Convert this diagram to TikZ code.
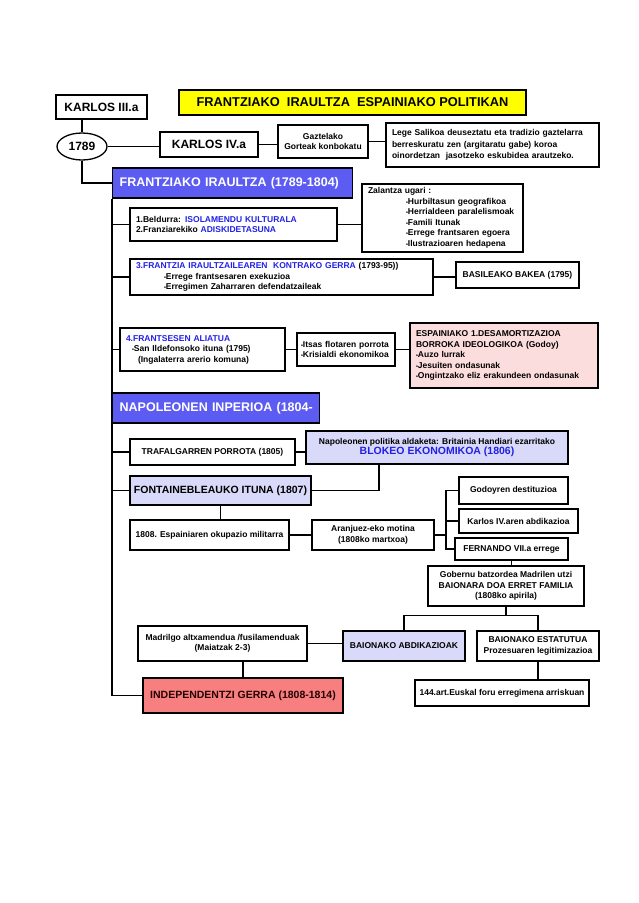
\documentclass[tikz,border=0pt]{standalone}
\usepackage{fontspec}
\setmainfont{Liberation Sans}
\usetikzlibrary{shapes.geometric,positioning}
\definecolor{titleYellow}{HTML}{FFFF00}
\definecolor{eraBlue}{HTML}{5C5CF2}
\definecolor{lavBox}{HTML}{D9D9FA}
\definecolor{pinkBox}{HTML}{FCDDDD}
\definecolor{warRed}{HTML}{F77F7F}
\definecolor{txtBlue}{HTML}{2020E6}
\newcommand{\bl}[1]{\textcolor{txtBlue}{#1}}
\newcommand{\pt}{{\fontsize{5.5}{5.5}\selectfont\textbullet}}

\begin{document}
\begin{tikzpicture}[x=1pt,y=-1pt,line width=1.3pt,
	box/.style={draw, rectangle, inner sep=2pt, font=\bfseries\fontsize{8.5}{10.5}\selectfont, align=center},
	lbox/.style={box, align=left, inner xsep=6pt, text width=#1-12pt},
	bigbox/.style={box, font=\bfseries\fontsize{12}{14}\selectfont},
	era/.style={box, fill=eraBlue, text=white, font=\bfseries\fontsize{12.5}{14}\selectfont, align=left, anchor=west, inner xsep=7pt, text width=#1-14pt},
	lav/.style={box, fill=lavBox}]
	\useasboundingbox (0,0) rectangle (638,903);
	% head
	\node[bigbox, fill=titleYellow, minimum width=347, minimum height=25, font=\bfseries\fontsize{12.8}{14}\selectfont] (title) at (352.5,102.5) {FRANTZIAKO\ \ IRAULTZA\ \ ESPAINIAKO POLITIKAN};
	\node[bigbox, minimum width=91, minimum height=24] (k3) at (101.5,107) {KARLOS III.a};
	\node[draw, ellipse, minimum width=50, minimum height=27, inner sep=0, font=\bfseries\fontsize{12}{13}\selectfont] (y1789) at (82,146.5) {1789};
	\node[bigbox, minimum width=98, minimum height=25] (k4) at (209,144.5) {KARLOS IV.a};
	\node[box, minimum width=90, minimum height=33] (gorte) at (323,141.5) {Gaztelako\\Gorteak konbokatu};
	\node[lbox=213pt, minimum height=44, font=\bfseries\fontsize{8.5}{11.5}\selectfont] (lege) at (492.5,145) {Lege Salikoa deuseztatu eta tradizio gaztelarra\\berreskuratu zen (argitaratu gabe) koroa\\oinordetzan\ \ jasotzeko eskubidea arautzeko.};
	% frantziako iraultza
	\node[era=240pt, minimum height=30] (fr) at (112,183) {FRANTZIAKO IRAULTZA (1789-1804)};
	\node[lbox=161pt, minimum height=68] (zal) at (442.5,218) {Zalantza ugari :\\
		\hspace*{38pt}\pt Hurbiltasun geografikoa\\
		\hspace*{38pt}\pt Herrialdeen paralelismoak\\
		\hspace*{38pt}\pt Famili Itunak\\
		\hspace*{38pt}\pt Errege frantsaren egoera\\
		\hspace*{38pt}\pt Ilustrazioaren hedapena};
	\node[lbox=207pt, minimum height=33] (beld) at (233.5,224.5) {1.Beldurra: \bl{ISOLAMENDU KULTURALA}\\2.Franziarekiko \bl{ADISKIDETASUNA}};
	\node[lbox=303pt, minimum height=36] (gerra) at (281.5,277) {\bl{3.FRANTZIA IRAULTZAILEAREN\ \ KONTRAKO GERRA} (1793-95))\\
		\hspace*{28pt}\pt Errege frantsesaren exekuzioa\\
		\hspace*{28pt}\pt Erregimen Zaharraren defendatzaileak};
	\node[box, minimum width=123, minimum height=26] (basil) at (517.5,275) {BASILEAKO BAKEA (1795)};
	\node[lbox=165pt, minimum height=43] (aliat) at (202.5,349.5) {\bl{4.FRANTSESEN ALIATUA}\\
		\hspace*{6pt}\pt San Ildefonsoko ituna (1795)\\
		\hspace*{12pt}(Ingalaterra arerio komuna)};
	\node[lbox=102pt, minimum height=33, inner xsep=4pt] (itsas) at (346,349.5) {\pt Itsas flotaren porrota\\\pt Krisialdi ekonomikoa};
	\node[lbox=188pt, fill=pinkBox, minimum height=65] (desam) at (504,355.5) {ESPAINIAKO 1.DESAMORTIZAZIOA\\BORROKA IDEOLOGIKOA (Godoy)\\\pt Auzo lurrak\\\pt Jesuiten ondasunak\\\pt Ongintzako eliz erakundeen ondasunak};
	% napoleonen inperioa
	\node[era=207pt, minimum height=30] (napo) at (112,408) {\makebox[193pt][l]{NAPOLEONEN INPERIOA (1804-}};
	\node[box, minimum width=165, minimum height=26] (trafa) at (212.5,452) {TRAFALGARREN PORROTA (1805)};
	\node[lav, minimum width=262, minimum height=33] (bloke) at (437,447.5) {Napoleonen politika aldaketa: Britainia Handiari ezarritako\\{\fontsize{10.5}{12}\selectfont\bl{BLOKEO EKONOMIKOA (1806)}}};
	\node[lav, minimum width=181, minimum height=29, inner sep=1pt, font=\bfseries\fontsize{10.5}{12}\selectfont] (fonta) at (220.5,490.5) {FONTAINEBLEAUKO ITUNA (1807)};
	\node[box, minimum width=159, minimum height=30] (okup) at (209.5,535) {1808. Espainiaren okupazio militarra};
	\node[box, minimum width=122, minimum height=30] (aranj) at (373,535) {Aranjuez-eko motina\\(1808ko martxoa)};
	\node[box, minimum width=109, minimum height=27] (godoy) at (513.5,490.5) {Godoyren destituzioa};
	\node[box, minimum width=119, minimum height=24] (kabd) at (518.5,521) {Karlos IV.aren abdikazioa};
	\node[box, minimum width=113, minimum height=22] (fern) at (511.5,549) {FERNANDO VII.a errege};
	\node[box, minimum width=156, minimum height=40] (gobern) at (506,586) {Gobernu batzordea Madrilen utzi\\BAIONARA DOA ERRET FAMILIA\\(1808ko apirila)};
	\node[box, minimum width=169, minimum height=35] (madril) at (222.5,643.5) {Madrilgo altxamendua /fusilamenduak\\(Maiatzak 2-3)};
	\node[lav, minimum width=122, minimum height=30] (abdik) at (404,646) {BAIONAKO ABDIKAZIOAK};
	\node[box, minimum width=122, minimum height=30] (estat) at (538,646) {BAIONAKO ESTATUTUA\\Prozesuaren legitimizazioa};
	\node[box, fill=warRed, text=black!85!red, minimum width=200, minimum height=35, font=\bfseries\fontsize{10.5}{12}\selectfont] (indep) at (243,695.5) {INDEPENDENTZI GERRA (1808-1814)};
	\node[box, minimum width=174, minimum height=26] (art) at (502,693) {144.art.Euskal foru erregimena arriskuan};
	% connectors
	\draw (k3.south -| y1789) -- (y1789.north);
	\draw (y1789.south) |- (fr.west);
	\draw (y1789.east) -- (y1789.east -| k4.west);
	\draw (k4.east) -- (k4.east -| gorte.west);
	\draw (gorte.east) -- (gorte.east -| lege.west);
	\draw (fr.south west) |- (indep.west);
	\draw (fr.south west |- beld.west) -- (beld.west);
	\draw (beld.east) -- (beld.east -| zal.west);
	\draw (fr.south west |- gerra.west) -- (gerra.west);
	\draw (gerra.east) -- (gerra.east -| basil.west);
	\draw (fr.south west |- aliat.west) -- (aliat.west);
	\draw (aliat.east) -- (itsas.west);
	\draw (itsas.east) -- (itsas.east -| desam.west);
	\draw (fr.south west |- trafa.west) -- (trafa.west);
	\draw (trafa.east) -- (trafa.east -| bloke.west);
	\draw (fonta.east) -| ([xshift=-58pt]bloke.south);
	\draw (fr.south west |- fonta.west) -- (fonta.west);
	\draw (fonta.south) -- (fonta.south |- okup.north);
	\draw (okup.east) -- (aranj.west);
	\coordinate (fork) at (446,535);
	\draw (aranj.east) -- (fork);
	\draw (godoy.west) -| (fork) |- (fern.west);
	\draw (kabd.west) -- (kabd.west -| fork);
	\draw (fern.south) -- (fern.south |- gobern.north);
	\draw (gobern.south) -- ++(0,9) coordinate (split);
	\draw (abdik.north) |- (split) -| (estat.north);
	\draw (madril.east) -- (madril.east -| abdik.west);
	\draw (indep.north) -- (indep.north |- madril.south);
	\draw (estat.south) -- (estat.south |- art.north);
\end{tikzpicture}
\end{document}
